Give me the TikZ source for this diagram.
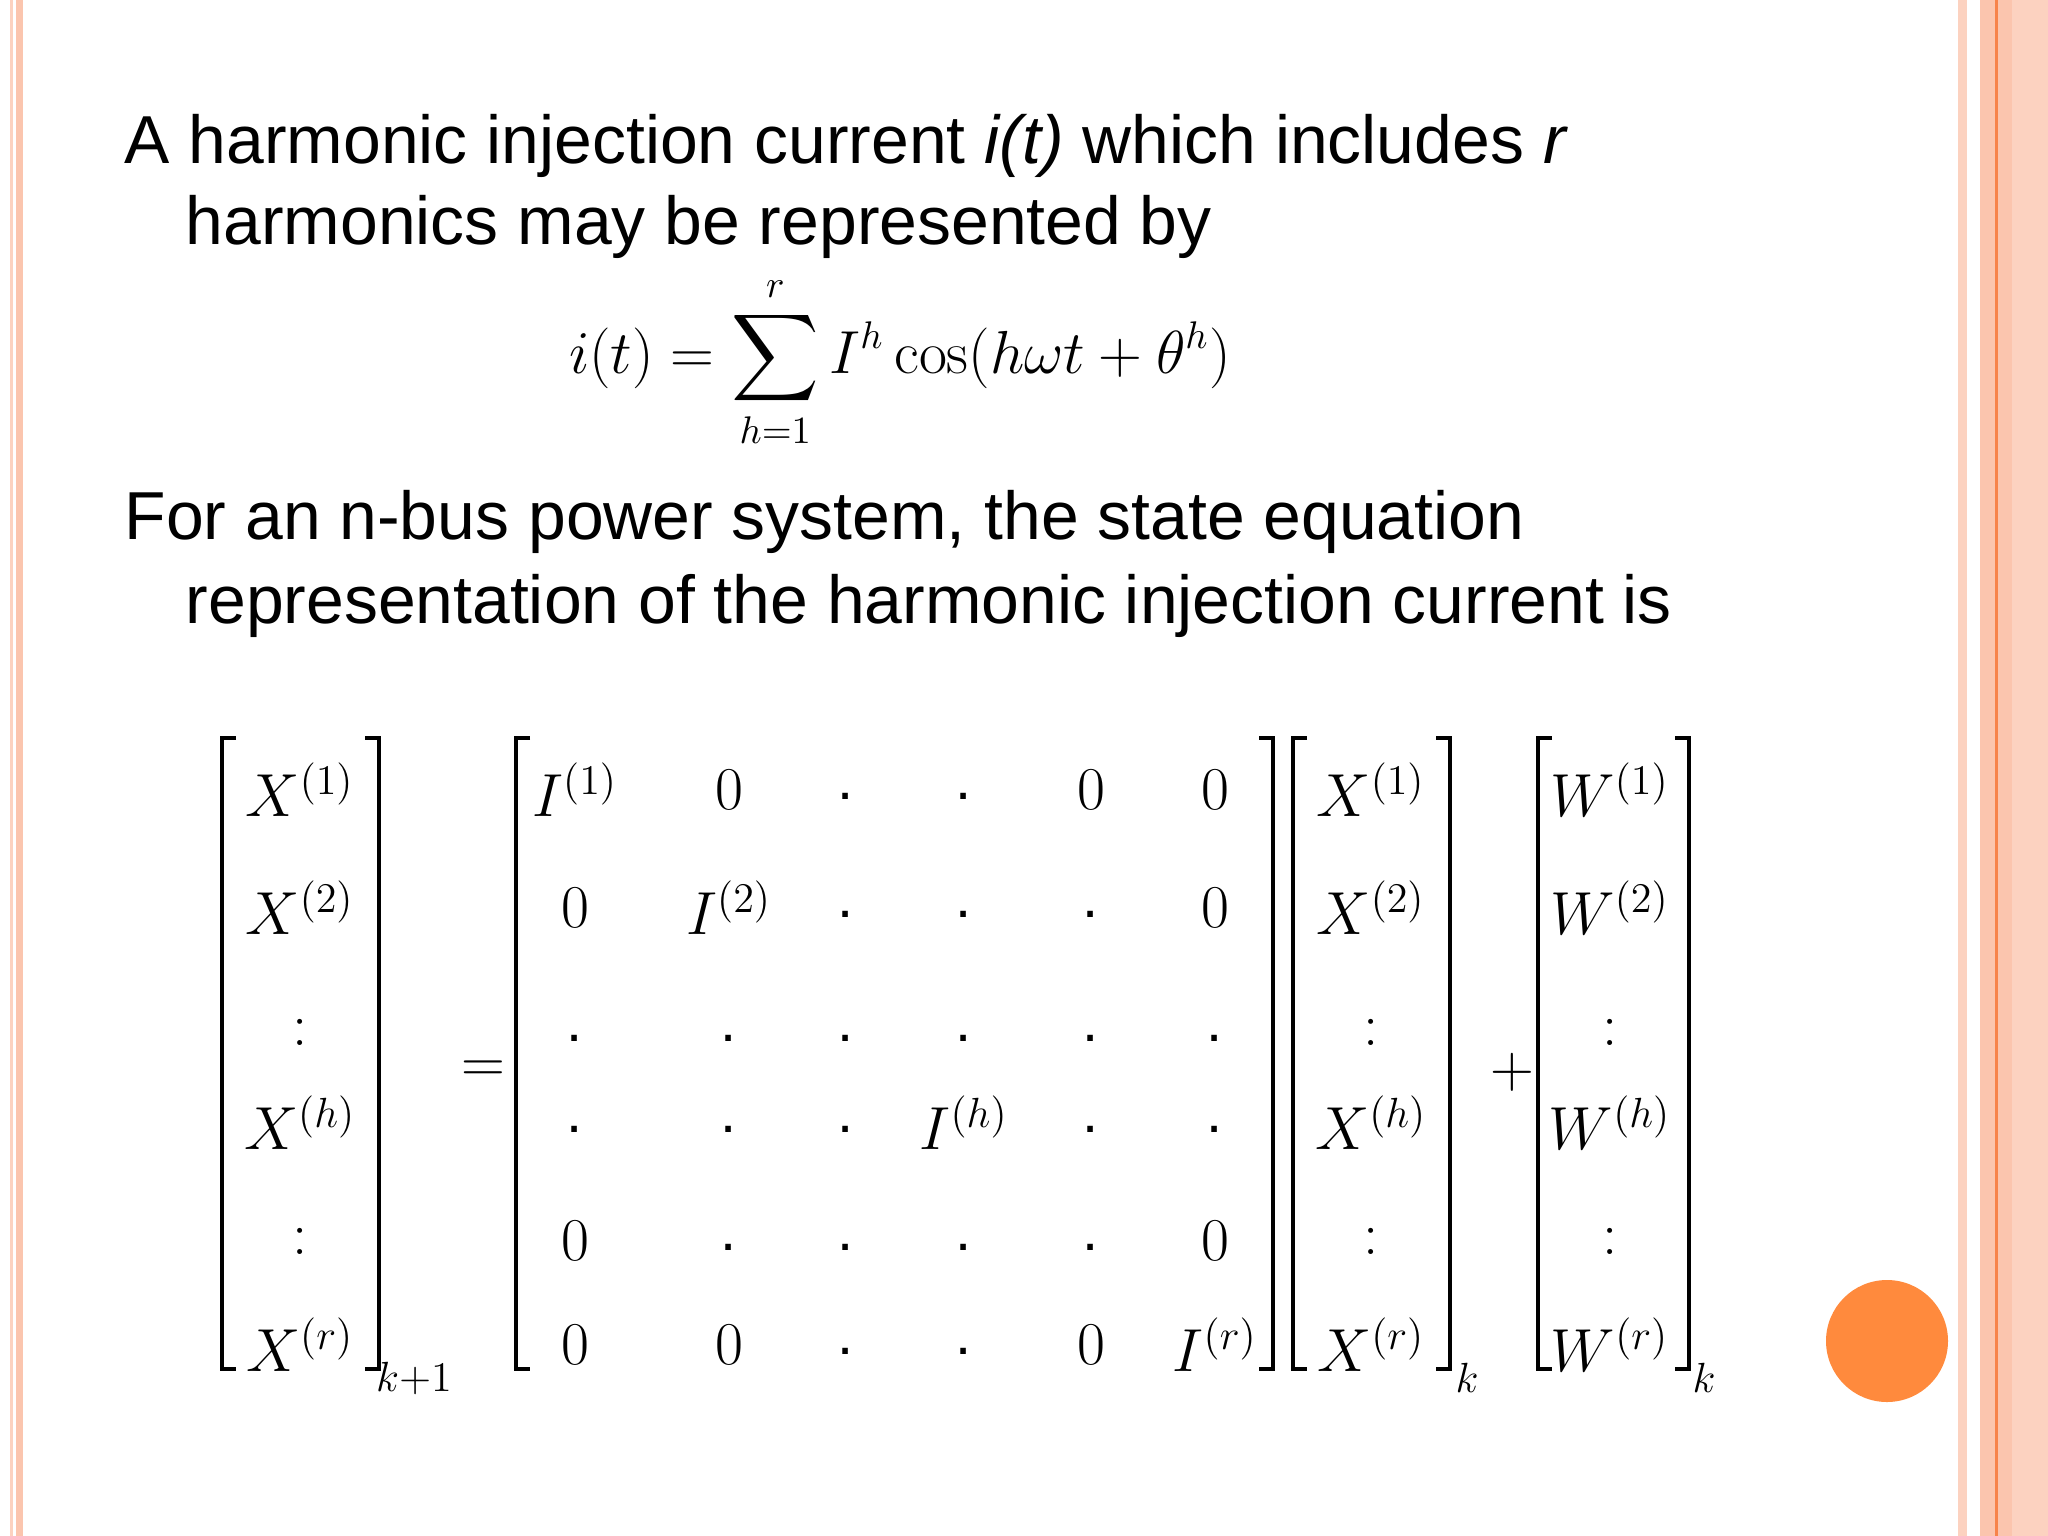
\documentclass[tikz,border=0pt]{standalone}
\usepackage{amsmath}
\usepackage[no-math]{fontspec}
\setmainfont{Liberation Sans}
\definecolor{peach}{HTML}{FBC5AE}
\definecolor{peachl}{HTML}{FCD2C0}
\definecolor{dorange}{HTML}{F7834A}
\definecolor{circ}{HTML}{FF8A3D}
\begin{document}
\begin{tikzpicture}[x=0.01cm,y=-0.01cm,
  txt/.style={anchor=base west,inner sep=0pt,font=\fontsize{19.3}{23}\selectfont},
  mel/.style={inner sep=0pt,font=\fontsize{16.5}{20}\selectfont},
  brk/.style={line width=0.9pt}]
\useasboundingbox (0,0) rectangle (2048,1536);
\fill[white] (0,0) rectangle (2048,1536);
% borders
\fill[peachl] (10,0) rectangle (13,1536);
\fill[peach] (16,0) rectangle (23,1536);
\fill[peachl] (1958,0) rectangle (1967,1536);
\fill[peach] (1980,0) rectangle (2048,1536);
\fill[peachl] (2012,0) rectangle (2048,1536);
\fill[dorange] (1995,0) rectangle (1998,1536);
% text
\node[txt] (l1) at (124,163) {A harmonic injection current \textit{i(t)} which includes \textit{r}};
\node[txt] (l2) at (185,244) {harmonics may be represented by};
\node[inner sep=0pt,font=\fontsize{16}{19}\selectfont] (eq) at (900,362)
  {$\displaystyle i(t)=\sum_{h=1}^{r} I^{h}\cos(h\omega t+\theta^{h})$};
\node[txt] (l3) at (124,539) {For an n-bus power system, the state equation};
\node[txt] (l4) at (185,623) {representation of the harmonic injection current is};
% brackets
\foreach \a/\b/\n in {222/379/lhs,516/1273/mm,1293/1450/vx,1538/1689/vw}{
  \draw[brk] (\a+14,738) -- (\a,738) -- (\a,1369) -- (\a+14,1369);
  \draw[brk] (\b-14,738) -- (\b,738) -- (\b,1369) -- (\b-14,1369);
}
% vectors
\foreach \y/\e in {790/$X^{(1)}$,908/$X^{(2)}$,1032/$:$,1123/$X^{(h)}$,1241/$:$,1345/$X^{(r)}$}{
  \node[mel] at (300,\y) {\e};
  \node[mel] at (1371,\y) {\e};
}
\foreach \y/\e in {790/$W^{(1)}$,908/$W^{(2)}$,1032/$:$,1123/$W^{(h)}$,1241/$:$,1345/$W^{(r)}$}{
  \node[mel] at (1610,\y) {\e};
}
\node[mel] (sk1) at (414,1378) {$\scriptstyle k+1$};
\node[mel] (sk2) at (1467,1378) {$\scriptstyle k$};
\node[mel] (sk3) at (1704,1378) {$\scriptstyle k$};
\node[mel] (eqs) at (483,1072) {$=$};
\node[mel] (pls) at (1512,1072) {$+$};
% matrix entries
\def\row#1#2{\foreach \x/\e in {#2}{\node[mel] at (\x,#1) {\e};}}
\def\d{\raisebox{-0.6ex}{.}}
\row{790}{575/$I^{(1)}$,729/$0$,846/\d,964/\d,1091/$0$,1215/$0$}
\row{908}{575/$0$,729/$I^{(2)}$,846/\d,964/\d,1091/\d,1215/$0$}
\row{1032}{575/\d,729/\d,846/\d,964/\d,1091/\d,1215/\d}
\row{1123}{575/\d,729/\d,846/\d,964/$I^{(h)}$,1091/\d,1215/\d}
\row{1241}{575/$0$,729/\d,846/\d,964/\d,1091/\d,1215/$0$}
\row{1345}{575/$0$,729/$0$,846/\d,964/\d,1091/$0$,1215/$I^{(r)}$}
% circle
\fill[circ] (1887,1341) circle (61);
\end{tikzpicture}
\end{document}
